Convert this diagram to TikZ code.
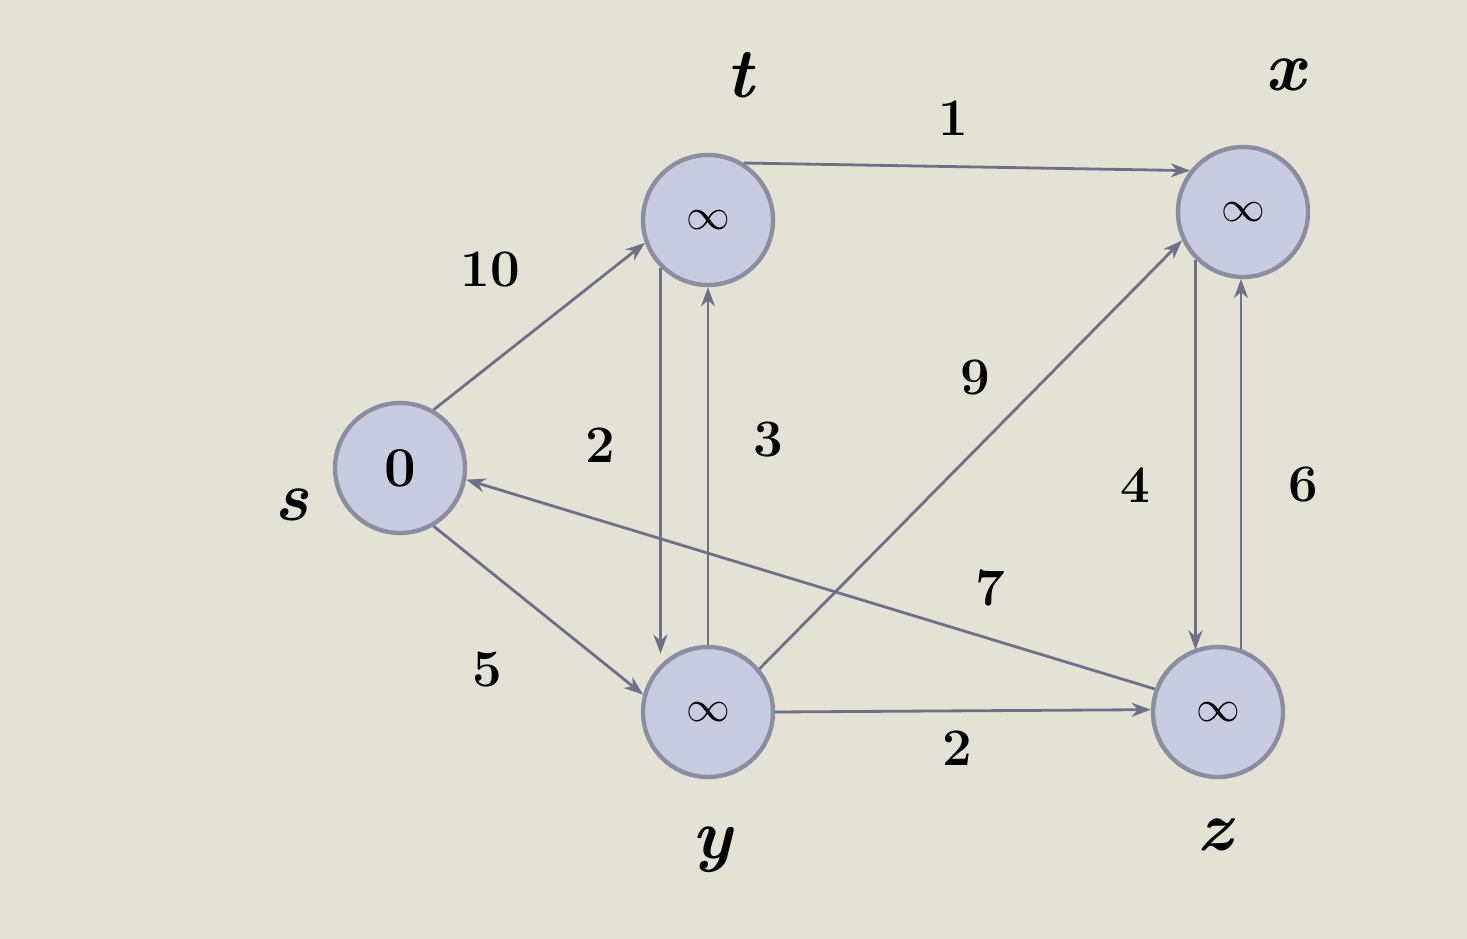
\documentclass[tikz,border=0pt]{standalone}
\usetikzlibrary{arrows.meta}
\definecolor{bg}{HTML}{E4E2D4}
\definecolor{nodefill}{HTML}{C9CBE0}
\definecolor{edge}{HTML}{6E7088}
\begin{document}
\begin{tikzpicture}[x=0.02cm,y=-0.02cm,
  vert/.style={circle,draw=edge!80,line width=2.5pt,fill=nodefill,minimum size=2.6cm,inner sep=0pt,font=\fontsize{32}{36}\selectfont\bfseries},
  lab/.style={font=\fontsize{40}{46}\selectfont\bfseries\itshape},
  wt/.style={font=\fontsize{30}{36}\selectfont\bfseries},
  arr/.style={draw=edge,line width=1.6pt,-{Stealth[length=11pt,width=8pt]}}]
\fill[bg] (0,0) rectangle (1467,939);
\useasboundingbox (0,0) rectangle (1467,939);
\node[vert] (s) at (400,468) {0};
\node[vert] (t) at (708,220) {$\infty$};
\node[vert] (x) at (1243,212) {$\infty$};
\node[vert] (y) at (708,712) {$\infty$};
\node[vert] (z) at (1218,712) {$\infty$};
\node[lab] (lt) at (740,75) {t};
\node[lab] (lx) at (1285,75) {x};
\node[lab] (ls) at (292,505) {s};
\node[lab] (ly) at (712,850) {y};
\node[lab] (lz) at (1215,835) {z};
\draw[arr] (s.60) -- (t.200);
\draw[arr] (s.300) -- (y.165);
\draw[arr] (t.58) -- (x.142);
\draw[arr] (t.225) -- (t.225 |- y.120);
\draw[arr] (y.90) -- (t.270);
\draw[arr] (y.40) -- (x.205);
\draw[arr] (y.0) -- (z.178);
\draw[arr] (x.225) -- (x.225 |- z.112);
\draw[arr] (z.70) -- (z.70 |- x.275);
\draw[arr] (z.160) -- (s.-10);
\node[wt] (w1) at (490,270) {10};
\node[wt] (w2) at (953,118) {1};
\node[wt] (w3) at (600,445) {2};
\node[wt] (w4) at (768,440) {3};
\node[wt] (w5) at (975,378) {9};
\node[wt] (w6) at (1135,485) {4};
\node[wt] (w7) at (1303,485) {6};
\node[wt] (w8) at (990,588) {7};
\node[wt] (w9) at (487,670) {5};
\node[wt] (w10) at (957,748) {2};
\end{tikzpicture}
\end{document}
